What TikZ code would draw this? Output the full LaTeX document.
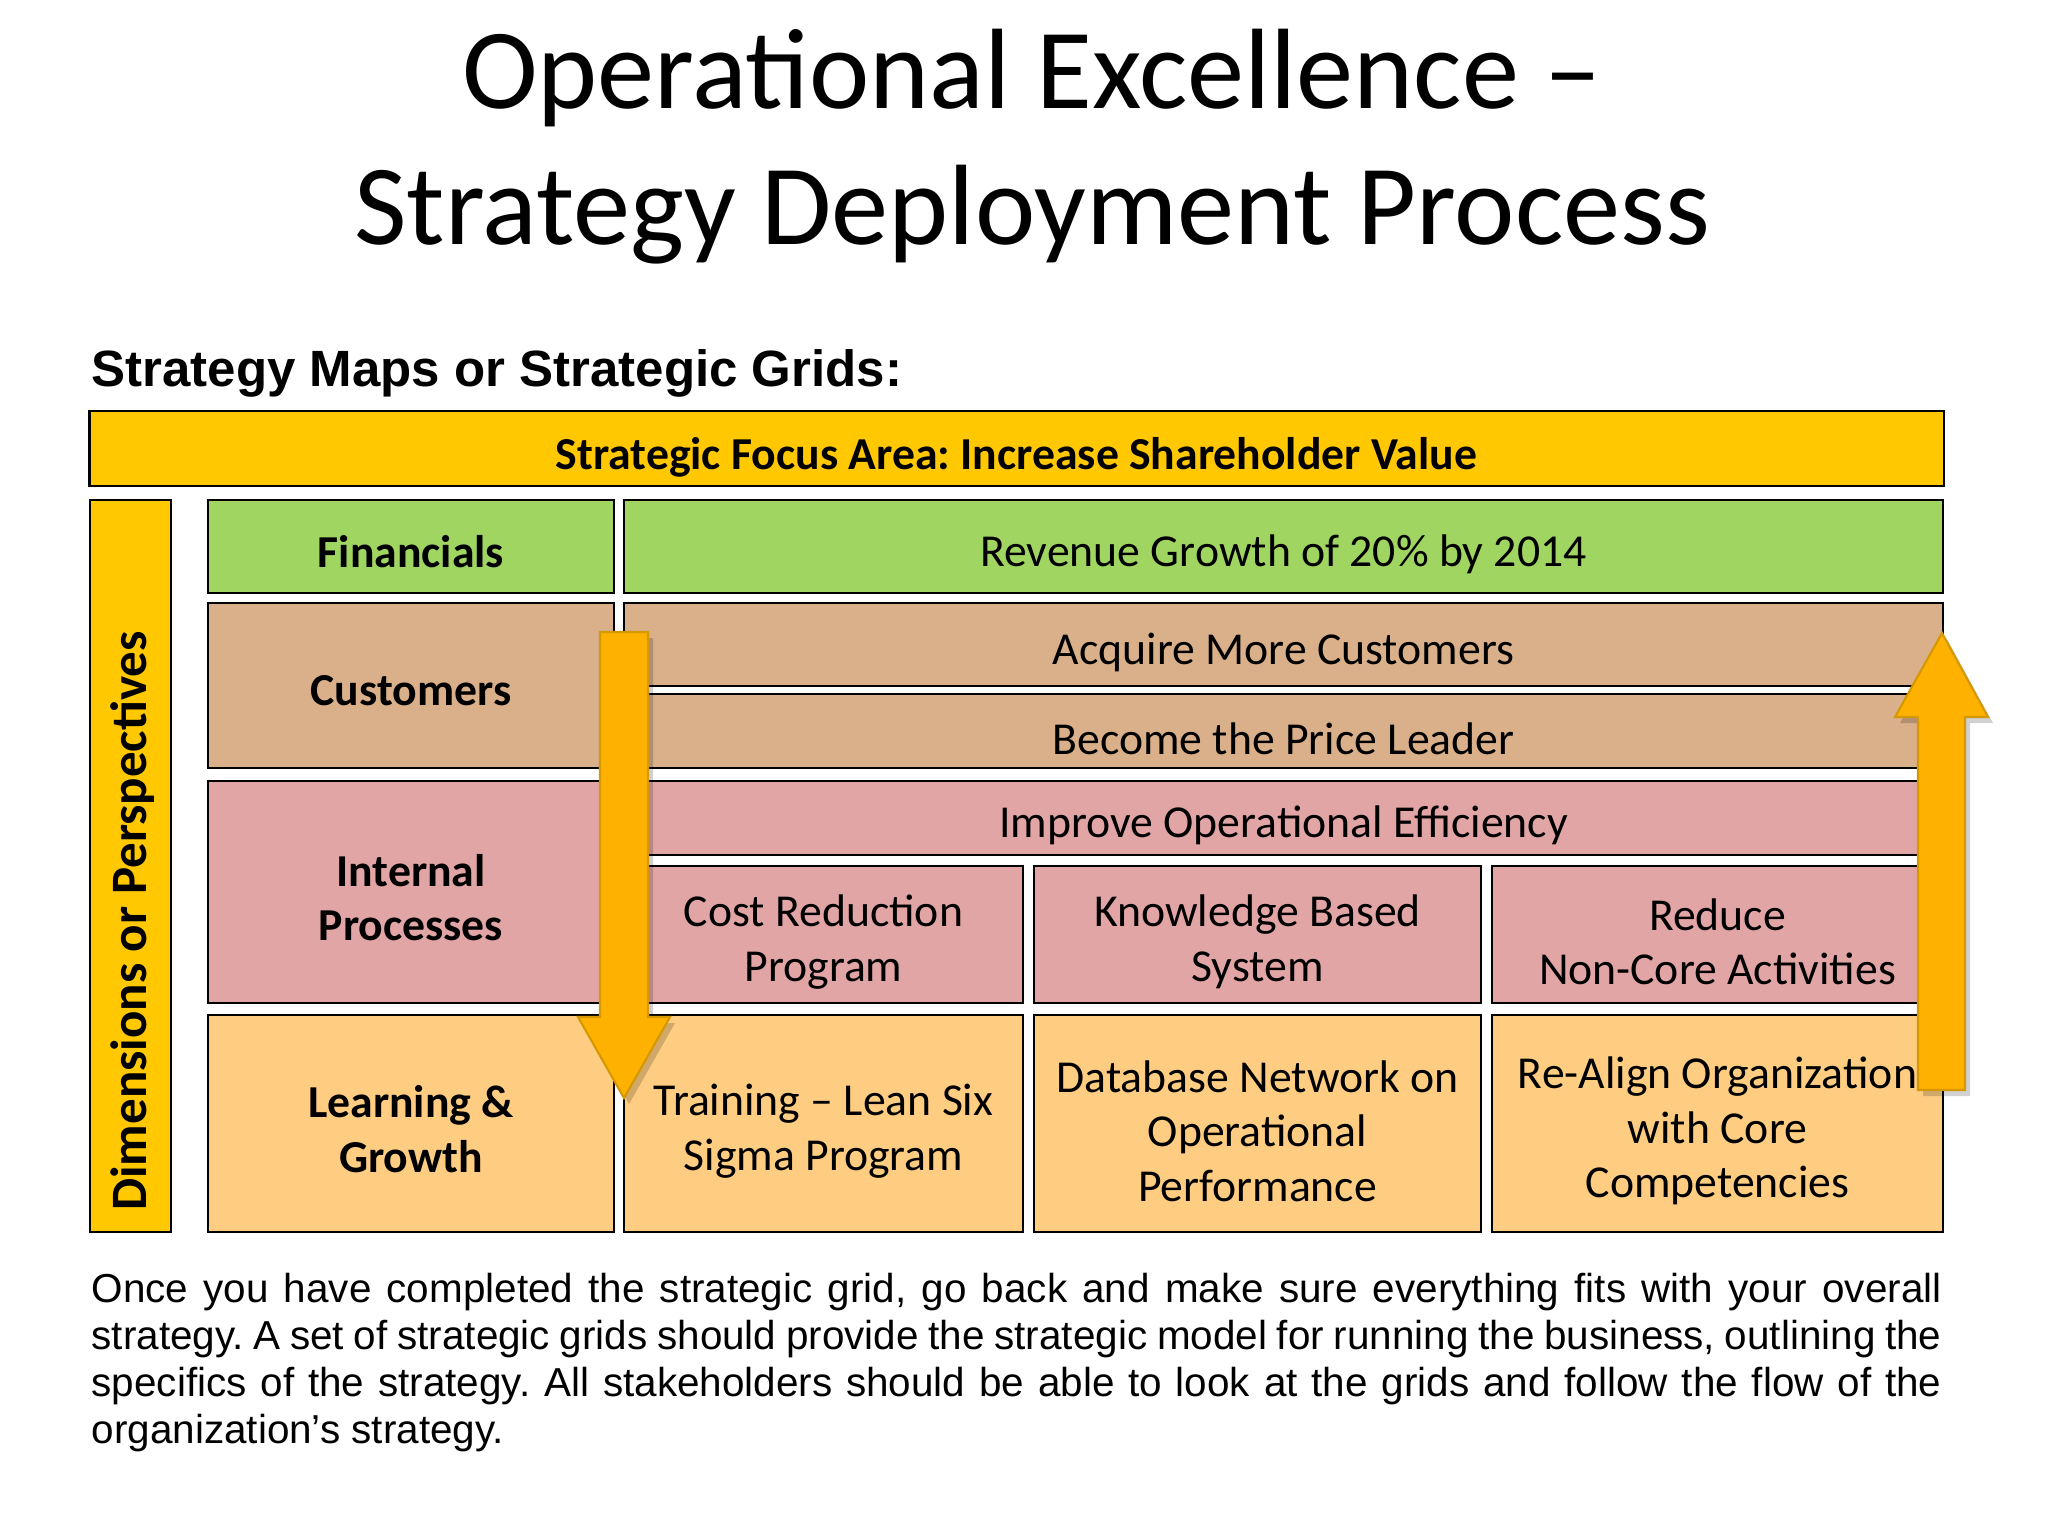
\documentclass[tikz,border=0pt]{standalone}
\usepackage{fontspec}
\setmainfont{Carlito}
\newfontfamily\arialfont{Liberation Sans}
\frenchspacing
\definecolor{focusyellow}{RGB}{255,200,0}
\definecolor{fingreen}{RGB}{160,213,97}
\definecolor{custtan}{RGB}{217,176,138}
\definecolor{procpink}{RGB}{226,165,165}
\definecolor{learnorange}{RGB}{254,205,130}
\definecolor{arrowfill}{RGB}{255,177,0}
\definecolor{arrowedge}{RGB}{214,152,0}
% #1 name, #2 text style, #3 fill, #4-#7 corners in px, #8 text
\newcommand\gbox[8]{%
  \pgfmathsetmacro\gw{(#6-#4)/100}\pgfmathsetmacro\gh{(#7-#5)/100}%
  \node[cellbox,fill=#3,minimum width=\gw cm,minimum height=\gh cm] (#1) at ({(#4+#6)/2},{(#5+#7)/2}) {};
  \node[#2] (#1-text) at (#1.center) {#8};}
\begin{document}
\begin{tikzpicture}[x=0.01cm,y=-0.01cm,
  cellbox/.style={draw=black,line width=0.6pt,inner sep=0pt},
  gridtext/.style={inner sep=0pt,align=center,yshift=-0.075cm,
    font=\fontsize{13}{15.5}\selectfont},
  labeltext/.style={inner sep=0pt,align=center,yshift=-0.055cm,
    font=\fontsize{13}{15.5}\selectfont\bfseries},
  focustext/.style={labeltext,yshift=-0.03cm},
  bigarrow/.style={fill=arrowfill,draw=arrowedge,line width=0.6pt,line join=miter},
  arrowshadow/.style={fill=black,opacity=0.18}]
\useasboundingbox[fill=white] (0,0) rectangle (2048,1536);

% titles
\node[anchor=base,inner sep=0pt,font=\fontsize{32.5}{39}\selectfont] (t1) at (1032,108) {Operational Excellence –};
\node[anchor=base,inner sep=0pt,font=\fontsize{32.5}{39}\selectfont] (t2) at (1032,244) {Strategy Deployment Process};
\node[anchor=base west,inner sep=0pt,font=\arialfont\bfseries\fontsize{14.5}{17}\selectfont] (sub) at (91,386) {Strategy Maps or Strategic Grids:};

% top bar and side bar
\gbox{focus}{focustext}{focusyellow}{90}{411}{1943}{486}{Strategic Focus Area: Increase Shareholder Value}
\node[cellbox,fill=focusyellow,minimum width=0.81cm,minimum height=7.32cm] (side) at (130.5,866) {};
\node[rotate=90,inner sep=0pt,font=\fontsize{14.5}{17}\bfseries\selectfont] (sidetext) at (133,921) {Dimensions or Perspectives};

% rows
\gbox{fin}{labeltext}{fingreen}{208}{500}{614}{593}{Financials}
\gbox{rev}{gridtext}{fingreen}{624}{500}{1943}{593}{Revenue Growth of 20\% by 2014}

\gbox{cust}{labeltext}{custtan}{208}{603}{614}{768}{Customers}
\gbox{acq}{gridtext}{custtan}{624}{603}{1943}{686}{Acquire More Customers}
\gbox{price}{gridtext}{custtan}{624}{694}{1943}{768}{Become the Price Leader}

\gbox{proc}{labeltext}{procpink}{208}{781}{614}{1003}{Internal\\Processes}
\gbox{eff}{gridtext}{procpink}{624}{781}{1943}{855}{Improve Operational Efficiency}
\gbox{cost}{gridtext}{procpink}{624}{866}{1023}{1003}{Cost Reduction\\Program}
\gbox{know}{gridtext}{procpink}{1034}{866}{1481}{1003}{Knowledge Based\\System}
\gbox{noncore}{gridtext}{procpink}{1492}{866}{1943}{1003}{Reduce\\Non-Core Activities}

\gbox{learn}{labeltext}{learnorange}{208}{1015}{614}{1232}{Learning \&\\Growth}
\gbox{train}{gridtext}{learnorange}{624}{1015}{1023}{1232}{Training – Lean Six\\Sigma Program}
\gbox{db}{gridtext}{learnorange}{1034}{1015}{1481}{1232}{Database Network on\\Operational\\Performance}
\gbox{realign}{gridtext}{learnorange}{1492}{1015}{1943}{1232}{Re-Align Organization\\with Core\\Competencies}

% big arrows
\begin{scope}[shift={(5,6)}]
\fill[arrowshadow] (600,632) -- (648,632) -- (648,1017) -- (670,1017) -- (624,1098) -- (578,1017) -- (600,1017) -- cycle;
\fill[arrowshadow] (1918,1090) -- (1965,1090) -- (1965,717) -- (1988,717) -- (1942,633) -- (1895,717) -- (1918,717) -- cycle;
\end{scope}
\draw[bigarrow] (600,632) -- (648,632) -- (648,1017) -- (670,1017) -- (624,1098) -- (578,1017) -- (600,1017) -- cycle;
\draw[bigarrow] (1918,1090) -- (1965,1090) -- (1965,717) -- (1988,717) -- (1942,633) -- (1895,717) -- (1918,717) -- cycle;

% paragraph
\node[anchor=north west,inner sep=0pt,text width=18.49cm,align=justify,
  font=\arialfont\fontsize{11.5}{13.4}\selectfont] (para) at (91,1272)
  {Once you have completed the strategic grid, go back and make sure everything fits with your overall\linebreak
   strategy. A set of strategic grids should provide the strategic model for running the business, outlining the\linebreak
   specifics of the strategy. All stakeholders should be able to look at the grids and follow the flow of the\linebreak
   organization’s strategy.};
\end{tikzpicture}
\end{document}
